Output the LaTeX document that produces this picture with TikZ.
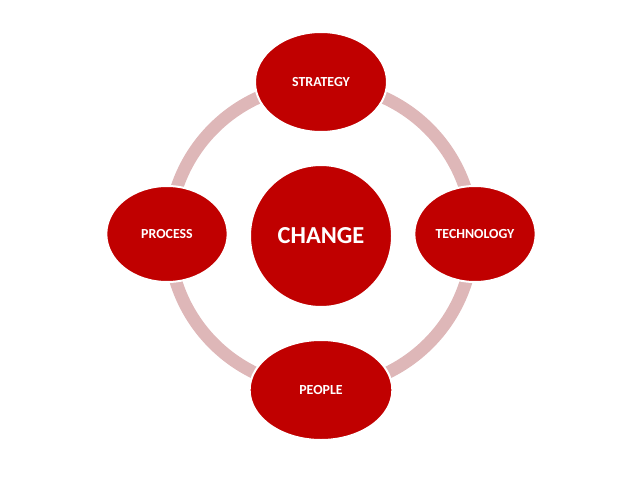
\documentclass[tikz,border=0pt]{standalone}
\usepackage{fontspec}
\setmainfont{Carlito}
\usepackage{xcolor}
\usetikzlibrary{shapes.geometric,positioning}
\definecolor{darkred}{RGB}{192,0,0}
\definecolor{ringpink}{RGB}{222,183,184}
\tikzset{
  blob/.style={ellipse,fill=darkred,draw=white,line width=1.5pt,text=white,font=\bfseries\fontsize{10.4}{12}\selectfont,inner sep=0pt},
  hub/.style={circle,fill=darkred,draw=white,line width=1.5pt,text=white,font=\bfseries\fontsize{18.3}{21}\selectfont,minimum size=106.5pt,inner sep=0pt}
}

\begin{document}
\begin{tikzpicture}[x=0.75pt,y=-0.75pt]
    \useasboundingbox (0,0) rectangle (638,478);
    % Ring
    \draw[ringpink,line width=9.5pt] (321,236) circle (152);
    % Centre
    \node[hub] (change) at (321,236) {CHANGE};
    % Outer ellipses
    \node[blob,minimum width=99pt,minimum height=75pt] (strategy) at (321,82) {STRATEGY};
    \node[blob,minimum width=91pt,minimum height=72pt] (process) at (167,234) {PROCESS};
    \node[blob,minimum width=91pt,minimum height=72pt] (technology) at (475,234) {TECHNOLOGY};
    \node[blob,minimum width=107pt,minimum height=75pt] (people) at (321,390) {PEOPLE};
\end{tikzpicture}
\end{document}
